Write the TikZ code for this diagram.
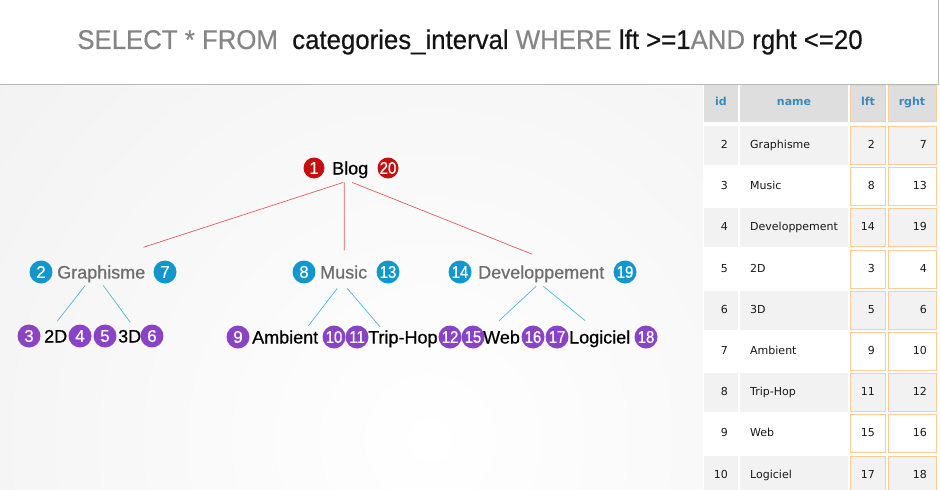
\documentclass[tikz,border=0pt]{standalone}
\usepackage{fontspec}
\setmainfont{Liberation Sans}
\newfontfamily\treefont[FakeBold=0.6]{Liberation Sans}
\newfontfamily\sqlfont[FakeBold=0.5]{Liberation Sans}
\newfontfamily\tabfont{DejaVu Sans}
\usetikzlibrary{positioning}
\definecolor{blogred}{HTML}{C50F0F}
\definecolor{lvlblue}{HTML}{0F97CE}
\definecolor{leafpurple}{HTML}{8B43C6}
\definecolor{linkred}{HTML}{DD5C60}
\definecolor{linkblue}{HTML}{4DB8DC}
\definecolor{txtgray}{HTML}{6E6E6E}
\definecolor{sqlgray}{HTML}{858585}
\definecolor{tabhead}{HTML}{DEDEDE}
\definecolor{tabrow}{HTML}{F2F2F2}
\definecolor{tabblue}{HTML}{3A8AC0}
\definecolor{cellorange}{HTML}{FFCC99}
\newcommand{\dd}[1]{\scalebox{0.88}[1]{#1}}
\tikzset{
  numc/.style={circle, inner sep=0pt, minimum size=23pt, text=white, font=\treefont\fontsize{17}{17}\selectfont},
  rootc/.style={numc, fill=blogred, minimum size=21pt},
  midc/.style={numc, fill=lvlblue},
  leafc/.style={numc, fill=leafpurple},
  roottxt/.style={inner sep=0pt, anchor=base west, font=\treefont\fontsize{18}{18}\selectfont},
  midtxt/.style={roottxt, text=txtgray},
  leaftxt/.style={roottxt, text=black},
  redlink/.style={draw=linkred, line width=0.7pt},
  bluelink/.style={draw=linkblue, line width=0.7pt},
  tabtxt/.style={inner sep=0pt, font=\tabfont\fontsize{11}{11}\selectfont, text=black!90},
  tabheadtxt/.style={inner sep=0pt, anchor=base, font=\tabfont\bfseries\fontsize{11}{11}\selectfont, text=tabblue},
  orangecell/.style={draw=cellorange, line width=1pt}
}
\begin{document}
\begin{tikzpicture}[x=1pt, y=-1pt]
\useasboundingbox (0,0) rectangle (940,490);
\begin{scope}
  \clip (0,84) rectangle (940,490);
  \fill[black!8] (0,84) rectangle (940,490);
  \shade[inner color=white, outer color=black!8] (430,440) circle (900);
\end{scope}
\draw[draw=black!28, fill=white] (-2,-2) rectangle (938,84);
\node[font=\sqlfont\fontsize{27}{27}\selectfont] (sql) at (470,42) {\scalebox{0.955}[1]{\color{sqlgray}SELECT * FROM\ \ \color{black!92}categories\_interval \color{sqlgray}WHERE \color{black!92}lft >=1\color{sqlgray}AND \color{black!92}rght <=20}};

\fill[white] (703,85) rectangle (940,490);
\fill[tabhead] (704,85) rectangle (738,122);
\fill[tabhead] (740,85) rectangle (848,122);
\draw[orangecell, fill=tabhead] (850.5,85.5) rectangle (885.5,121.5);
\draw[orangecell, fill=tabhead] (888.5,85.5) rectangle (936.5,121.5);
\node[tabheadtxt] (h-id) at (721,105) {id};
\node[tabheadtxt] (h-name) at (794,105) {name};
\node[tabheadtxt] (h-lft) at (868,105) {lft};
\node[tabheadtxt] (h-rght) at (912,105) {rght};
\foreach \id/\nm/\l/\g [count=\k from 0] in {2/Graphisme/2/7, 3/Music/8/13, 4/Developpement/14/19, 5/2D/3/4, 6/3D/5/6, 7/Ambient/9/10, 8/Trip-Hop/11/12, 9/Web/15/16, 10/Logiciel/17/18}{
  \pgfmathsetmacro{\rtop}{126+41.2*\k}
  \pgfmathsetmacro{\rbase}{148.5+41.2*\k}
  \ifodd\k\def\rowcol{white}\else\def\rowcol{tabrow}\fi
  \fill[\rowcol] (704,\rtop) rectangle (738,\rtop+39);
  \fill[\rowcol] (740,\rtop) rectangle (848,\rtop+39);
  \draw[orangecell, fill=\rowcol] (850.5,\rtop+0.5) rectangle (885.5,\rtop+38.5);
  \draw[orangecell, fill=\rowcol] (888.5,\rtop+0.5) rectangle (936.5,\rtop+38.5);
  \node[tabtxt, anchor=base east] (id-\k) at (728,\rbase) {\id};
  \node[tabtxt, anchor=base west] (name-\k) at (750,\rbase) {\nm};
  \node[tabtxt, anchor=base east] (lft-\k) at (875,\rbase) {\l};
  \node[tabtxt, anchor=base east] (rght-\k) at (927,\rbase) {\g};
}

\node[rootc] (n1) at (314,168) {1};
\node[roottxt] (blog) at (332,174.5) {Blog};
\node[rootc] (n20) at (388,168) {\dd{20}};

\node[midc] (n2) at (41,272) {2};
\node[midtxt] (graph) at (57,278.5) {Graphisme};
\node[midc] (n7) at (165,272) {7};
\node[midc] (n8) at (304,272) {8};
\node[midtxt] (music) at (320,278.5) {Music};
\node[midc] (n13) at (388,272) {\dd{13}};
\node[midc] (n14) at (460,272) {\dd{14}};
\node[midtxt] (dev) at (478,278.5) {Developpement};
\node[midc] (n19) at (625,272) {\dd{19}};

\node[leafc] (n3) at (29,336) {3};
\node[leaftxt] (twod) at (44,342.5) {2D};
\node[leafc] (n4) at (80,336) {4};
\node[leafc] (n5) at (105,336) {5};
\node[leaftxt] (threed) at (118,342.5) {3D};
\node[leafc] (n6) at (152,336) {6};
\node[leafc] (n9) at (238,337) {9};
\node[leaftxt] (ambient) at (252,343.5) {Ambient};
\node[leafc] (n10) at (334,337) {\dd{10}};
\node[leafc] (n11) at (357,337) {\dd{11}};
\node[leaftxt] (triphop) at (368,343.5) {Trip-Hop};
\node[leafc] (n12) at (450,337) {\dd{12}};
\node[leafc] (n15) at (473,337) {\dd{15}};
\node[leaftxt] (web) at (483,343.5) {Web};
\node[leafc] (n16) at (533,337) {\dd{16}};
\node[leafc] (n17) at (557,337) {\dd{17}};
\node[leaftxt] (logiciel) at (569,343.5) {Logiciel};
\node[leafc] (n18) at (646,337) {\dd{18}};

\draw[redlink] ([shift={(-7,4)}]blog.south) -- ([shift={(-2,-18)}]graph.north east);
\draw[redlink] ([shift={(-6,4)}]blog.south) -- ([shift={(0.5,-15)}]music.north);
\draw[redlink] ([shift={(2,4)}]blog.south) -- ([shift={(-9,-11)}]dev.north);
\draw[bluelink] ([shift={(-16,3)}]graph.south) -- ([shift={(1.5,-8.5)}]twod.north);
\draw[bluelink] ([shift={(2,3)}]graph.south) -- ([shift={(0.5,-7.5)}]threed.north);
\draw[bluelink] ([shift={(-6.5,9.5)}]music.south) -- ([shift={(-10,-4.5)}]ambient.north east);
\draw[bluelink] ([shift={(3.5,9.5)}]music.south) -- ([shift={(12,-3.5)}]triphop.north west);
\draw[bluelink] ([shift={(-5,3.7)}]dev.south) -- ([shift={(-2.5,-9.5)}]web.north);
\draw[bluelink] ([shift={(2,3.7)}]dev.south) -- ([shift={(-14.5,-9.5)}]logiciel.north);
\end{tikzpicture}
\end{document}
